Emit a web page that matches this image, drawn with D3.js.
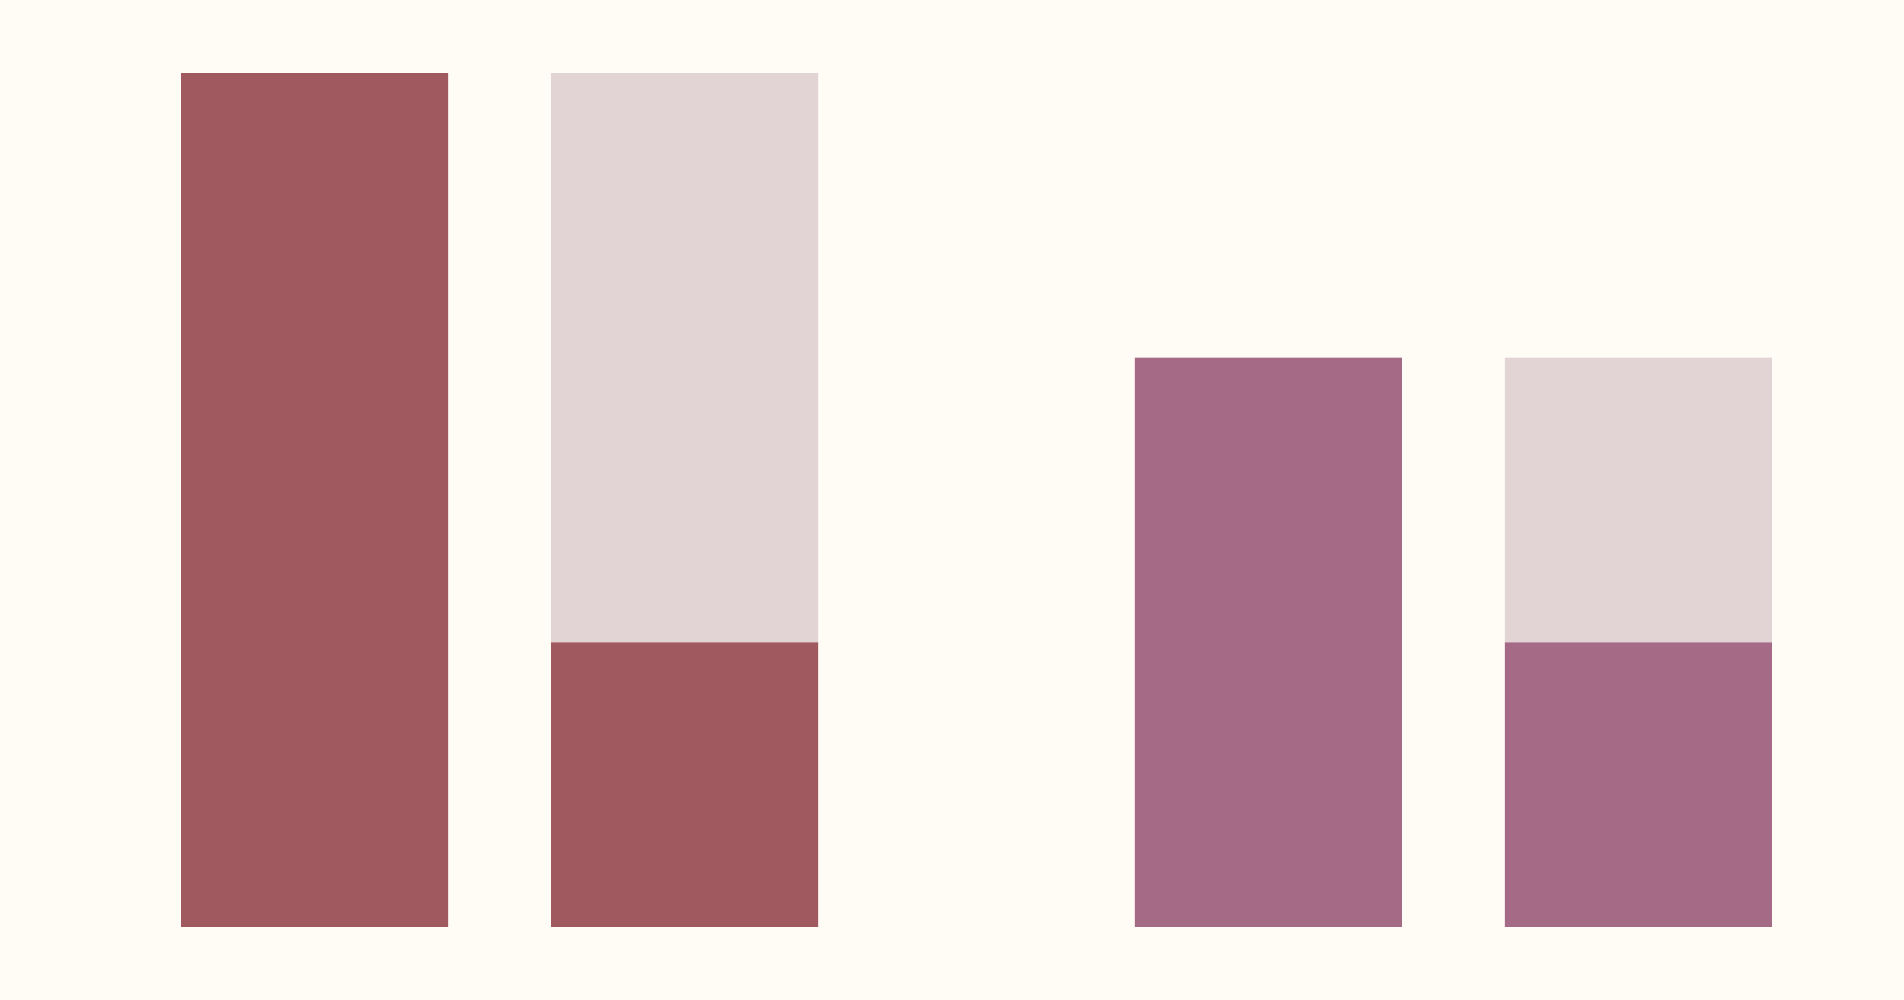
<!DOCTYPE html>
<html>
<head>
    <meta charset="utf-8">
    <title>Part of whole bars</title>
    <style>
        body {
            margin: 0;
            background-color: #fffcf5;
            font-family: "helvetica";
        }

        .rest {
            fill: #e2d3d4;
        }
    </style>
    <script src="https://d3js.org/d3.v7.min.js"></script>
</head>

<body>

<script type="text/javascript">
    // data
    var groups = ["Group 1", "Group 2"],
        kinds = ["whole", "part"],
        totals = [3, 2],
        parts = [1, 1],
        groupColors = ["#a05a5f", "#a46a86"];

    var width = 1904, height = 1000,
        margins = {top: 73, left: 181, right: 132, bottom: 73};

    var svg = d3.select("body").append("svg")
            .attr("width", width)
            .attr("height", height);

    var x0 = d3.scaleBand()
            .domain(groups)
            .range([margins.left, width - margins.right])
            .paddingInner(0.332)
            .paddingOuter(0);

    var x1 = d3.scaleBand()
            .domain(kinds)
            .range([0, x0.bandwidth()])
            .paddingInner(0.278)
            .paddingOuter(0);

    var y = d3.scaleLinear()
            .domain([0, d3.max(totals)])
            .range([height - margins.bottom, margins.top]);

    var rows = groups.map(function (g, i) {
        return {group: g, total: totals[i], part: parts[i], color: groupColors[i]};
    });

    var groupG = svg.selectAll("g.group")
            .data(rows)
            .enter()
            .append("g")
            .attr("class", "group")
            .attr("transform", function (d) {
                return "translate(" + x0(d.group) + ",0)";
            });

    // whole bar
    groupG.append("rect")
            .attr("class", "whole")
            .attr("x", x1("whole"))
            .attr("width", x1.bandwidth())
            .attr("y", function (d) { return y(d.total); })
            .attr("height", function (d) { return y(0) - y(d.total); })
            .style("fill", function (d) { return d.color; });

    // part bar: light remainder behind, coloured part in front
    groupG.append("rect")
            .attr("class", "rest")
            .attr("x", x1("part"))
            .attr("width", x1.bandwidth())
            .attr("y", function (d) { return y(d.total); })
            .attr("height", function (d) { return y(d.part) - y(d.total); });

    groupG.append("rect")
            .attr("class", "part")
            .attr("x", x1("part"))
            .attr("width", x1.bandwidth())
            .attr("y", function (d) { return y(d.part); })
            .attr("height", function (d) { return y(0) - y(d.part); })
            .style("fill", function (d) { return d.color; });
</script>

</body>

</html>
